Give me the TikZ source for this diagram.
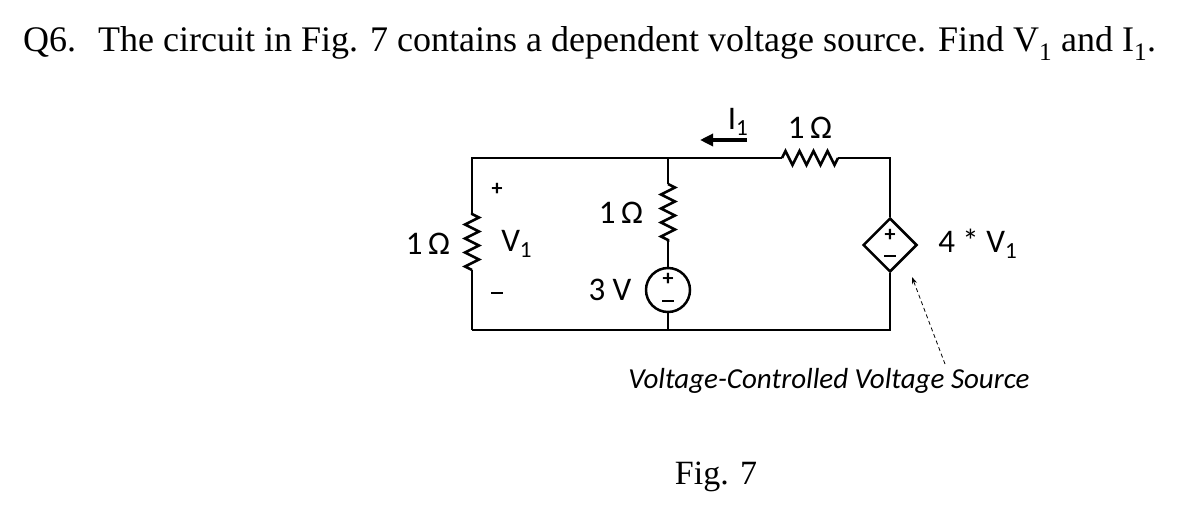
\documentclass[tikz,border=0pt]{standalone}
\usepackage{fontspec}
\setmainfont{Liberation Serif}
\newfontfamily\calfont{Carlito}
\usetikzlibrary{shapes.geometric,arrows.meta,decorations.pathmorphing}
\begin{document}
\begin{tikzpicture}[x=1pt,y=-1pt,line width=2.5pt,
 res/.style={decorate,decoration={zigzag,segment length=14pt,amplitude=7pt}},
 lab/.style={font=\calfont\fontsize{33}{33}\selectfont,inner sep=0pt},
 sym/.style={font=\calfont\bfseries\fontsize{22}{22}\selectfont,inner sep=0pt},
 mn/.style={line width=2pt}]
\useasboundingbox (0,0) rectangle (1182,521);
\node[anchor=base west,inner sep=0pt,font=\fontsize{36}{36}\selectfont] (title) at (22,52) {Q6.\hspace{22pt}The circuit in Fig. 7 contains a dependent voltage source. Find V\textsubscript{1} and I\textsubscript{1}.};
\coordinate (tl) at (472,158); \coordinate (tm) at (668,158); \coordinate (tr) at (890,158);
\coordinate (bl) at (472,330); \coordinate (bm) at (668,330); \coordinate (br) at (890,330);
\coordinate (r1a) at (472,213); \coordinate (r1b) at (472,270);
\coordinate (r2a) at (668,184); \coordinate (r2b) at (668,242);
\coordinate (r3a) at (782,158); \coordinate (r3b) at (838,158);
\node[circle,draw,minimum size=44pt,inner sep=0pt] (vs) at (668,290) {};
\node[diamond,draw,minimum size=54pt,inner sep=0pt] (ds) at (890,245) {};
\draw (bl) -- (r1b); \draw[res] (r1b) -- (r1a); \draw (r1a) -- (tl) -- (tm) -- (r3a);
\draw[res] (r3a) -- (r3b); \draw (r3b) -- (tr) -- (ds.north);
\draw (ds.south) -- (br) -- (bm) -- (bl);
\draw (tm) -- (r2a); \draw[res] (r2a) -- (r2b); \draw (r2b) -- (vs.north); \draw (vs.south) -- (bm);
\node[sym] (p1) at (668,279) {+};
\node[sym] (p2) at (890,235) {+};
\node[sym] (p3) at (497,189) {+};
\coordinate (m1a) at (662,301); \coordinate (m1b) at (674,301); \draw[mn] (m1a) -- (m1b);
\coordinate (m2a) at (884,256); \coordinate (m2b) at (896,256); \draw[mn] (m2a) -- (m2b);
\coordinate (m3a) at (491,293); \coordinate (m3b) at (503,293); \draw[mn] (m3a) -- (m3b);
\node[lab] (l1) at (428,244) {1\,Ω};
\node[lab,anchor=west] (v1) at (500,244) {V\textsubscript{1}};
\node[lab] (l2) at (621,213) {1\,Ω};
\node[lab] (l3) at (610,290) {3 V};
\node[lab] (l4) at (810,128) {1\,Ω};
\node[lab] (i1) at (738,122) {I\textsubscript{1}};
\coordinate (aa) at (747,140); \coordinate (ab) at (700,140);
\draw[-{Triangle[length=13pt,width=12pt]},line width=3.2pt] (aa) -- (ab);
\node[lab,anchor=west] (g) at (937,244) {4 * V\textsubscript{1}};
\node[lab,font=\calfont\itshape\fontsize{29}{29}\selectfont] (vc) at (829,381) {Voltage-Controlled Voltage Source};
\coordinate (dA) at (945,364);
\draw[line width=0.8pt,dash pattern=on 4pt off 3pt,-{Stealth[length=7pt]}] (dA) -- (912,277);
\node[inner sep=0pt,font=\fontsize{34}{34}\selectfont] (fig) at (716,477) {Fig. 7};
\end{tikzpicture}
\end{document}
